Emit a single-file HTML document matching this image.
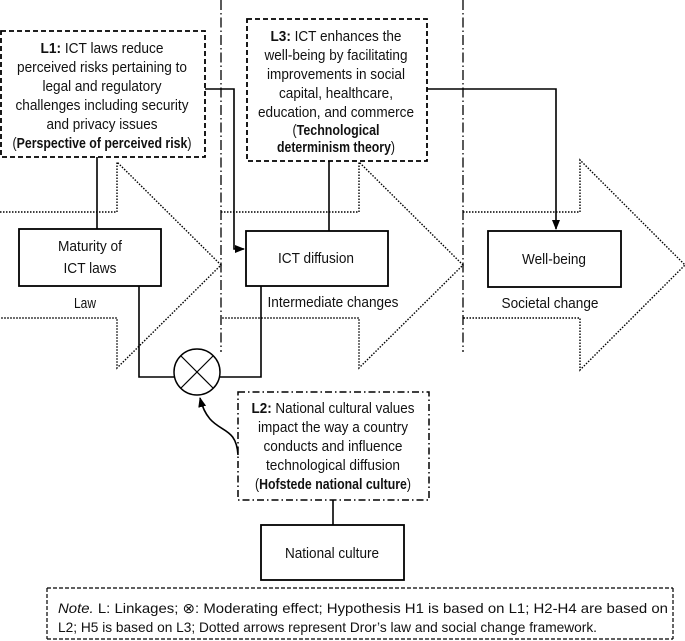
<!DOCTYPE html>
<html><head><meta charset="utf-8"><style>
html,body{margin:0;padding:0;background:#fff;}
svg{display:block;font-family:"Liberation Sans",Arial,sans-serif;}
text{font-size:15px;fill:#111;}
</style></head><body>
<svg width="685" height="641" viewBox="0 0 685 641" xmlns="http://www.w3.org/2000/svg">
<defs>
<marker id="ah" markerWidth="10" markerHeight="10" refX="9" refY="5" orient="auto" markerUnits="userSpaceOnUse">
<path d="M0,1 L10,5 L0,9 Z" fill="#000"/></marker>
</defs>
<g fill="none" stroke="#000">
<line x1="221" y1="0" x2="221" y2="352" stroke-width="1.3" stroke-dasharray="10,3,1.5,3"/>
<line x1="463" y1="0" x2="463" y2="352" stroke-width="1.3" stroke-dasharray="10,3,1.5,3"/>
<path d="M0,212 H117 V162 L221,265 L117,368 V318 H0" stroke-width="1.4" stroke-dasharray="1.5,1.5"/>
<path d="M221,212 H359 V162 L463,265 L359,368 V318 H221" stroke-width="1.4" stroke-dasharray="1.5,1.5"/>
<path d="M463,212 H580 V160 L685,265 L580,370 V318 H463" stroke-width="1.4" stroke-dasharray="1.5,1.5"/>
<rect x="1" y="31" width="204" height="126" fill="#fff" stroke-width="1.8" stroke-dasharray="5,3"/>
<rect x="247" y="19" width="180" height="142" fill="#fff" stroke-width="1.8" stroke-dasharray="5,3"/>
<rect x="238" y="392" width="191" height="108" fill="#fff" stroke-width="1.5" stroke-dasharray="7,3,1.5,3"/>
<rect x="19" y="229" width="142" height="57" fill="#fff" stroke-width="1.8"/>
<rect x="246" y="231" width="142" height="55" fill="#fff" stroke-width="1.8"/>
<rect x="488" y="231" width="133" height="56" fill="#fff" stroke-width="1.8"/>
<rect x="261" y="525" width="143" height="55" fill="#fff" stroke-width="1.8"/>
<g stroke-width="1.6">
<line x1="97" y1="157" x2="97" y2="229"/>
<path d="M205,89 H234 V249 H244" marker-end="url(#ah)"/>
<line x1="329" y1="161" x2="329" y2="231"/>
<path d="M427,89 H556 V229" marker-end="url(#ah)"/>
<path d="M139,286 V377 H174"/>
<path d="M261,286 V377 H220"/>
<line x1="333" y1="500" x2="333" y2="525"/>
<path d="M238,455 C236,420 210,438 200,398" marker-end="url(#ah)"/>
</g>
<circle cx="197" cy="372" r="23" fill="#fff" stroke-width="1.5"/>
<line x1="181" y1="356" x2="213" y2="388" stroke-width="1.2"/>
<line x1="213" y1="356" x2="181" y2="388" stroke-width="1.2"/>
<line x1="47" y1="588" x2="673" y2="588" stroke-width="1.2" stroke-dasharray="4,2"/>
<line x1="47" y1="639" x2="673" y2="639" stroke-width="1.2" stroke-dasharray="4,2"/>
<line x1="47" y1="588" x2="47" y2="639" stroke-width="1.2" stroke-dasharray="4,2"/>
<line x1="673" y1="588" x2="673" y2="639" stroke-width="1.2" stroke-dasharray="4,2"/>
</g>
<g text-anchor="middle">
<text x="102" y="53" textLength="123" lengthAdjust="spacingAndGlyphs"><tspan font-weight="bold">L1:</tspan> ICT laws reduce</text>
<text x="102" y="72" textLength="170" lengthAdjust="spacingAndGlyphs">perceived risks pertaining to</text>
<text x="102" y="91" textLength="119" lengthAdjust="spacingAndGlyphs">legal and regulatory</text>
<text x="102" y="110" textLength="173" lengthAdjust="spacingAndGlyphs">challenges including security</text>
<text x="102" y="129" textLength="111" lengthAdjust="spacingAndGlyphs">and privacy issues</text>
<text x="102" y="148" textLength="179" lengthAdjust="spacingAndGlyphs">(<tspan font-weight="bold">Perspective of perceived risk</tspan>)</text>
<text x="336" y="41" textLength="131" lengthAdjust="spacingAndGlyphs"><tspan font-weight="bold">L3:</tspan> ICT enhances the</text>
<text x="336" y="60" textLength="143" lengthAdjust="spacingAndGlyphs">well-being by facilitating</text>
<text x="336" y="79" textLength="138" lengthAdjust="spacingAndGlyphs">improvements in social</text>
<text x="336" y="98" textLength="114" lengthAdjust="spacingAndGlyphs">capital, healthcare,</text>
<text x="336" y="117" textLength="156" lengthAdjust="spacingAndGlyphs">education, and commerce</text>
<text x="336" y="135" textLength="87" lengthAdjust="spacingAndGlyphs">(<tspan font-weight="bold">Technological</tspan></text>
<text x="336" y="152" textLength="118" lengthAdjust="spacingAndGlyphs"><tspan font-weight="bold">determinism theory</tspan>)</text>
<text x="333" y="413" textLength="163" lengthAdjust="spacingAndGlyphs"><tspan font-weight="bold">L2:</tspan> National cultural values</text>
<text x="333" y="432" textLength="150" lengthAdjust="spacingAndGlyphs">impact the way a country</text>
<text x="333" y="451" textLength="139" lengthAdjust="spacingAndGlyphs">conducts and influence</text>
<text x="333" y="470" textLength="134" lengthAdjust="spacingAndGlyphs">technological diffusion</text>
<text x="333" y="489" textLength="156" lengthAdjust="spacingAndGlyphs">(<tspan font-weight="bold">Hofstede national culture</tspan>)</text>
<text x="90" y="251" textLength="64" lengthAdjust="spacingAndGlyphs">Maturity of</text>
<text x="90" y="273" textLength="53" lengthAdjust="spacingAndGlyphs">ICT laws</text>
<text x="316" y="263" textLength="76" lengthAdjust="spacingAndGlyphs">ICT diffusion</text>
<text x="554" y="264" textLength="64" lengthAdjust="spacingAndGlyphs">Well-being</text>
<text x="332" y="558" textLength="94" lengthAdjust="spacingAndGlyphs">National culture</text>
<text x="85" y="308" textLength="22" lengthAdjust="spacingAndGlyphs">Law</text>
<text x="333" y="307" textLength="131" lengthAdjust="spacingAndGlyphs">Intermediate changes</text>
<text x="550" y="308" textLength="97" lengthAdjust="spacingAndGlyphs">Societal change</text>
</g>
<text x="58" y="613" style="font-size:14px" textLength="610" lengthAdjust="spacingAndGlyphs"><tspan font-style="italic">Note.</tspan> L: Linkages; ⊗: Moderating effect; Hypothesis H1 is based on L1; H2-H4 are based on</text>
<text x="58" y="632" style="font-size:14px" textLength="539" lengthAdjust="spacingAndGlyphs">L2; H5 is based on L3; Dotted arrows represent Dror’s law and social change framework.</text>
</svg>
</body></html>
